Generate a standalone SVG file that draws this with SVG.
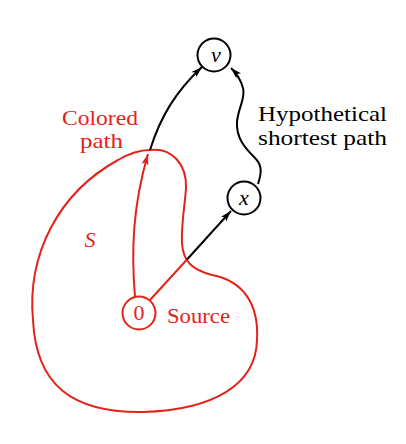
<svg xmlns="http://www.w3.org/2000/svg" width="406" height="444" viewBox="0 0 406 444">
<style>
.red{stroke:#e2231a;fill:none;stroke-width:2}
.blk{stroke:#000;fill:none;stroke-width:2}
.node{fill:#fff;stroke-width:2}
.t{font-family:"Liberation Serif",serif;font-size:22px}
.tr{fill:#e2231a}
.it{font-style:italic}
</style>
<defs>
<marker id="ab" markerUnits="userSpaceOnUse" markerWidth="12" markerHeight="8" refX="11" refY="4" orient="auto">
<path d="M0,0.5 L11,4 L0,7.5 L2.5,4 Z" fill="#000"/>
</marker>
<marker id="ar" markerUnits="userSpaceOnUse" markerWidth="12" markerHeight="8" refX="11" refY="4" orient="auto">
<path d="M0,0.5 L11,4 L0,7.5 L2.5,4 Z" fill="#e2231a"/>
</marker>
</defs>
<rect width="406" height="444" fill="#fff"/>
<g id="region-S">
<path class="red" d="M150,150 C172,147 187,165 186,188 C185,205 181,225 182,243 C183,262 193,270 212,275 C244,281 259,305 257,340 C256,385 213,410 143,412 C72,413 36,385 33,320 C27,255 58,193 118,160 C130,153 142,150 150,150 Z"/>
<text class="t tr it" x="90" y="247" text-anchor="middle" font-size="23">S</text>
</g>
<g id="connectors">
<path class="red" d="M135,297 C131,250 133,205 148,154" marker-end="url(#ar)"/>
<path class="blk" d="M150,150 C160,118 175,92 202,67" marker-end="url(#ab)"/>
<path class="red" d="M150,300 L187,259.5"/>
<path class="blk" d="M187,259.5 L231,211" marker-end="url(#ab)"/>
<path class="blk" d="M258,184 C262,172 262,165 255,158 C245,148 236,138 237,122 C238,108 246,98 243,88 C241,80 238,75 231,68" marker-end="url(#ab)"/>
</g>
<g id="node-v">
<circle class="node" cx="214" cy="55" r="16.5" stroke="#000"/>
<text class="t it" x="216" y="62" text-anchor="middle" font-size="25">ν</text>
</g>
<g id="node-x">
<circle class="node" cx="244" cy="198" r="16.5" stroke="#000"/>
<text class="t it" x="244" y="205" text-anchor="middle" font-size="26">x</text>
</g>
<g id="node-0">
<circle class="node" cx="139" cy="313" r="16.5" stroke="#e2231a"/>
<text class="t tr" x="139" y="320" text-anchor="middle" font-size="20">0</text>
</g>
<g id="labels">
<text class="t tr" x="62" y="125" font-size="19.5" textLength="76" lengthAdjust="spacingAndGlyphs">Colored</text>
<text class="t tr" x="80" y="148" font-size="19.5" textLength="43" lengthAdjust="spacingAndGlyphs">path</text>
<text class="t tr" x="167" y="323" textLength="63" lengthAdjust="spacingAndGlyphs">Source</text>
<text class="t" x="258" y="121" textLength="129" lengthAdjust="spacingAndGlyphs">Hypothetical</text>
<text class="t" x="258" y="145" textLength="129" lengthAdjust="spacingAndGlyphs">shortest path</text>
</g>
</svg>
